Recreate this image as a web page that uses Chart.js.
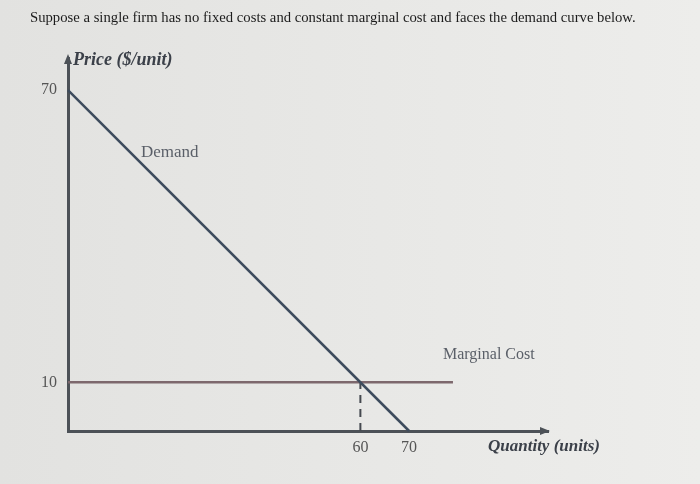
<!DOCTYPE html>
<html>
<head>
<meta charset="utf-8">
<script src="https://cdn.jsdelivr.net/npm/chart.js@4"></script>
<style>
  html, body { margin: 0; padding: 0; background: #e6e6e4; }
  #wrap { width: 700px; height: 484px; }
</style>
</head>
<body>
<div id="wrap"><canvas id="myChart" width="700" height="484"></canvas></div>
<script>
// data
var demandQ = [0, 70];
var demandP = [70, 0];
var mcQ = [0, 79];
var mcP = [10, 10];
var eqQ = [60, 60];
var eqP = [0, 10];
var xTicks = [60, 70];
var yTicks = [10, 70];

var serif = "'Liberation Serif', 'DejaVu Serif', serif";

function pts(xs, ys) {
  return xs.map((x, i) => ({ x: x, y: ys[i] }));
}

// background, title, axis arrows and the text labels
var extras = {
  id: "extras",
  beforeDraw(chart) {
    const c = chart.ctx;
    const g = c.createLinearGradient(0, 0, chart.width, 0);
    g.addColorStop(0, "#e2e2e0");
    g.addColorStop(1, "#ededeb");
    c.save();
    c.fillStyle = g;
    c.fillRect(0, 0, chart.width, chart.height);
    c.restore();
  },
  afterDraw(chart) {
    const c = chart.ctx;
    const a = chart.chartArea;
    c.save();
    // title
    c.fillStyle = "#1c1c1c";
    c.font = "14.7px " + serif;
    c.textBaseline = "middle";
    c.textAlign = "left";
    c.fillText("Suppose a single firm has no fixed costs and constant marginal cost and faces the demand curve below.", 30, 18);

    // arrow heads
    c.fillStyle = "#4c5157";
    c.beginPath();
    c.moveTo(a.left, a.top - 4);
    c.lineTo(a.left - 4, a.top + 6);
    c.lineTo(a.left + 4, a.top + 6);
    c.closePath();
    c.fill();
    c.beginPath();
    c.moveTo(a.right + 2, a.bottom);
    c.lineTo(a.right - 8, a.bottom - 4);
    c.lineTo(a.right - 8, a.bottom + 4);
    c.closePath();
    c.fill();

    // axis titles
    c.fillStyle = "#3b4049";
    c.font = "italic bold 18px " + serif;
    c.fillText("Price ($/unit)", 73, 60);
    c.font = "italic bold 17px " + serif;
    c.fillText("Quantity (units)", 488, 447);

    // curve labels
    c.fillStyle = "#5a5f68";
    c.font = "17px " + serif;
    c.fillText("Demand", 141, 153);
    c.font = "16px " + serif;
    c.fillText("Marginal Cost", 443, 355);
    c.restore();
  },
};

var ctx = document.getElementById("myChart").getContext("2d");
var myChart = new Chart(ctx, {
  type: "scatter",
  data: {
    datasets: [
      {
        label: "Demand",
        data: pts(demandQ, demandP),
        showLine: true,
        borderColor: "#3d4b5d",
        borderWidth: 2.5,
        pointRadius: 0,
        clip: false,
      },
      {
        label: "Marginal Cost",
        data: pts(mcQ, mcP),
        showLine: true,
        borderColor: "#7d686d",
        borderWidth: 2.5,
        pointRadius: 0,
        clip: false,
      },
      {
        label: "Q*",
        data: pts(eqQ, eqP),
        showLine: true,
        borderColor: "#45494f",
        borderWidth: 2,
        borderDash: [8, 6],
        pointRadius: 0,
        clip: false,
      },
    ],
  },
  plugins: [extras],
  options: {
    responsive: false,
    animation: false,
    layout: { padding: { top: 58, right: 152, bottom: 0, left: 0 } },
    plugins: {
      legend: { display: false },
      tooltip: { enabled: false },
    },
    scales: {
      x: {
        type: "linear",
        min: 0,
        max: 98.5,
        afterBuildTicks: (s) => { s.ticks = xTicks.map((v) => ({ value: v })); },
        afterFit: (s) => { s.height = 53; },
        grid: { display: false, drawTicks: false },
        border: { display: true, color: "#4c5157", width: 3 },
        ticks: { color: "#555", font: { family: serif, size: 16 }, padding: 7, maxRotation: 0 },
      },
      y: {
        type: "linear",
        min: 0,
        max: 76.6,
        afterBuildTicks: (s) => { s.ticks = yTicks.map((v) => ({ value: v })); },
        afterFit: (s) => { s.width = 68; },
        grid: { display: false, drawTicks: false },
        border: { display: true, color: "#4c5157", width: 3 },
        ticks: { color: "#555", font: { family: serif, size: 16 }, padding: 11 },
      },
    },
  },
});
</script>
</body>
</html>
